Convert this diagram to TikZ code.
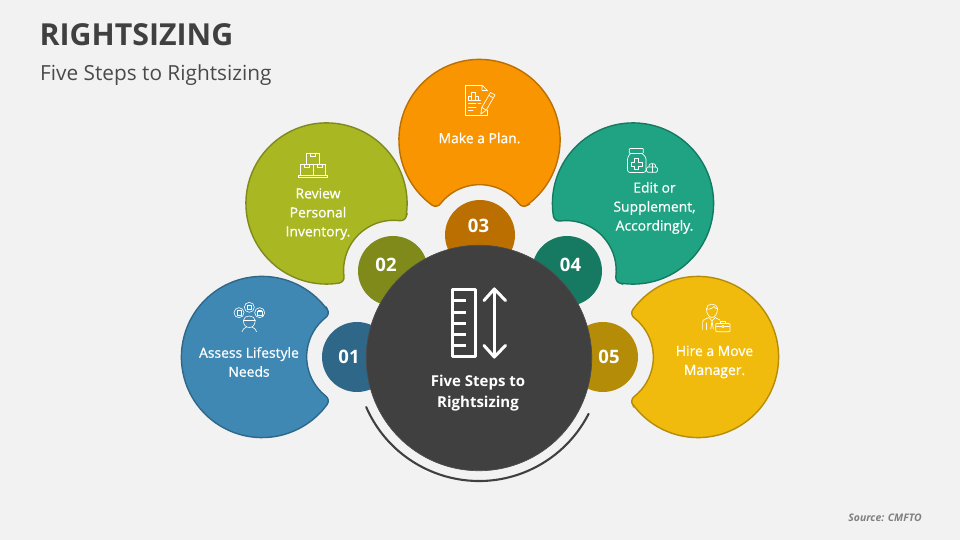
\documentclass[tikz,border=0pt]{standalone}
\usepackage{fontspec}
\setmainfont{Open Sans}
\newfontfamily\labfont[RawFeature={embolden=0.7}]{Open Sans}
\definecolor{bg}{HTML}{F2F2F2}
\definecolor{dark}{HTML}{404040}
\definecolor{sub}{HTML}{4A4A4A}
\definecolor{blueF}{HTML}{3F88B4}\definecolor{blueD}{HTML}{2F6788}
\definecolor{oliveF}{HTML}{A9B723}\definecolor{oliveD}{HTML}{7F8A1A}
\definecolor{orangeF}{HTML}{F89500}\definecolor{orangeD}{HTML}{BB6F00}
\definecolor{tealF}{HTML}{1FA383}\definecolor{tealD}{HTML}{167A62}
\definecolor{yellowF}{HTML}{F0BB0C}\definecolor{yellowD}{HTML}{B48C08}
\tikzset{
  lab/.style={text=white,align=center,font=\labfont\fontsize{13.9}{19}\selectfont,inner sep=0pt},
  num/.style={text=white,font=\bfseries\fontsize{18.5}{20}\selectfont,inner sep=0pt},
  badge/.style={circle,minimum size=70pt,inner sep=0pt},
  ico/.style={draw=white,line width=0.7pt,line join=round,line cap=round},
  px/.style={x=1pt,y=-1pt,yshift=540pt}
}
\newcommand{\crescent}[5]{%
  \begin{scope}[shift={(#1pt,#2pt)},rotate=#3]
    \draw[fill=#4,draw=#5,line width=1.4pt]
      (36.1:80.6pt) arc[start angle=36.1,end angle=323.9,radius=80.6pt]
      arc[start angle=-36.1,end angle=52.1,radius=6pt]
      arc[start angle=232.1,end angle=127.9,radius=50pt]
      arc[start angle=-52.1,end angle=36.1,radius=6pt] -- cycle;
  \end{scope}}
\begin{document}
\begin{tikzpicture}[x=1pt,y=1pt]
\useasboundingbox (0,0) rectangle (960,540);
\fill[bg] (0,0) rectangle (960,540);
\node[anchor=base west,inner sep=0pt,text=dark,font=\bfseries\fontsize{30.3}{34}\selectfont] (title) at (39.5,494) {RIGHTSIZING};
\node[anchor=base west,inner sep=0pt,text=sub,font=\fontsize{20.8}{24}\selectfont] (subtitle) at (40,459) {Five Steps to Rightsizing};
\node[anchor=base east,inner sep=0pt,text=gray,font=\bfseries\itshape\fontsize{10.4}{12}\selectfont] (source) at (922,18) {Source: CMFTO};
\crescent{262}{183}{0}{blueF}{blueD}
\crescent{326.5}{336.5}{-45}{oliveF}{oliveD}
\crescent{479.5}{400}{-90}{orangeF}{orangeD}
\crescent{633}{336.5}{-135}{tealF}{tealD}
\crescent{698}{183}{180}{yellowF}{yellowD}
\node[badge,fill=blueD] (b1) at (357,183) {};
\node[badge,fill=oliveD] (b2) at (393,269) {};
\node[badge,fill=orangeD] (b3) at (480,305) {};
\node[badge,fill=tealD] (b4) at (567,269) {};
\node[badge,fill=yellowD] (b5) at (603,183) {};
\draw[dark,line width=2.1pt,line cap=round] (479,182)++(203.5:123pt) arc[start angle=203.5,end angle=333,radius=123pt];
\node[circle,minimum size=225.5pt,inner sep=0pt,fill=dark,draw=black!70,line width=0.7pt] (hub) at (479,182) {};
\node[num] (n1) at (349,183) {01};
\node[num] (n2) at (386,275.5) {02};
\node[num] (n3) at (478.5,314) {03};
\node[num] (n4) at (570.5,275.5) {04};
\node[num] (n5) at (609,183) {05};
\node[lab] (t1) at (249,178) {Assess Lifestyle\\Needs};
\node[lab] (t2) at (318,326) {Review\\Personal\\Inventory.};
\node[lab] (t3) at (479.5,402) {Make a Plan.};
\node[lab] (t4) at (654.5,332) {Edit or\\Supplement,\\Accordingly.};
\node[lab] (t5) at (714.5,178) {Hire a Move\\Manager.};
\node[lab,font=\bfseries\fontsize{15}{21}\selectfont] (hubt) at (478,146.5) {Five Steps to\\Rightsizing};
\begin{scope}[px]
  % ruler and arrow
  \begin{scope}[draw=white,line width=3pt,line join=round,line cap=round]
    \draw (452,289.5) rectangle (475,356.5);
    \foreach \y in {301,312.3,323.3,334.3,345.7} \draw[line cap=butt] (452,\y) -- (465.7,\y);
    \draw (494.3,289) -- (494.3,357);
    \draw (484,300.5) -- (494.3,289) -- (505.5,300.5);
    \draw (484,345.5) -- (494.3,357) -- (505.5,345.5);
  \end{scope}
  % boxes
  \begin{scope}[ico]
    \draw (306.7,164.3) -- (306.7,153.3) -- (319,153.3) -- (319,164.3);
    \draw (310.5,153.3) -- (310.5,156.5) -- (315.2,156.5) -- (315.2,153.3);
    \draw (300.7,175.5) -- (300.7,164.3) -- (325.7,164.3) -- (325.7,175.5);
    \draw (313.2,164.3) -- (313.2,175.5);
    \draw (304.5,164.3) -- (304.5,167) -- (309.5,167) -- (309.5,164.3);
    \draw (317,164.3) -- (317,167) -- (322,167) -- (322,164.3);
    \draw (298.3,175.3) rectangle (327.7,177.5);
  \end{scope}
  % lifestyle
  \begin{scope}[ico,line width=0.6pt]
    \draw (239,312.7) circle (5pt) (249.3,307.3) circle (5pt) (259.7,312.7) circle (5pt);
    \draw (236.8,310.4) rectangle (241.2,315);
    \draw (247.1,305.3) rectangle (251.5,309.3);
    \draw (257.5,311.2) rectangle (261.9,315) (258.6,311.2) -- (258.6,310.2) -- (260.8,310.2) -- (260.8,311.2);
    \draw (243.4,320.5) .. controls (243.4,314.5) and (255.2,314.5) .. (255.2,320.5) .. controls (255.2,325) and (252.5,327.5) .. (249.3,327.5) .. controls (246,327.5) and (243.4,325) .. (243.4,320.5);
    \draw (243.4,320) -- (255.2,320);
    \draw (242,331.7) .. controls (242,329) and (245,328.3) .. (246.5,327) (256.6,331.7) .. controls (256.6,329) and (253.6,328.3) .. (252,327);
  \end{scope}
  % plan
  \begin{scope}[ico]
    \draw (482,85.3) -- (465.8,85.3) -- (465.8,115) -- (487.5,115) -- (487.5,110);
    \draw (482,85.3) -- (482,90.5) -- (487.5,90.5) -- cycle;
    \draw (468.8,100) -- (468.8,96.5) -- (471.8,96.5) -- (471.8,100) (471.8,100) -- (471.8,92.5) -- (475.2,92.5) -- (475.2,100) (475.2,100) -- (475.2,96) -- (478.5,96) -- (478.5,100);
    \draw (468.5,100) -- (480.5,100);
    \draw (468.5,103.3) -- (476,103.3) (478,103.3) -- (481,103.3);
    \draw (468.5,107) -- (476,107) (468.5,110.3) -- (473,110.3);
    \draw (480.8,114) -- (481.8,107.5) -- (490.5,92.5) -- (495,95) -- (486.2,110.2) -- cycle;
    \draw (481.8,107.5) -- (486.2,110.2);
    \draw (488.8,95.3) -- (493.3,97.9);
  \end{scope}
  % medicine
  \begin{scope}[ico]
    \draw[rounded corners=0.8pt] (629.3,148.5) rectangle (643.3,153.5);
    \draw[rounded corners=2.5pt] (630.5,153.5) -- (627.5,157) -- (627.5,172.5) -- (646,172.5) -- (646,157) -- (642,153.5);
    \draw (634.7,158.5) -- (638.7,158.5) -- (638.7,162) -- (642.2,162) -- (642.2,166) -- (638.7,166) -- (638.7,169.5) -- (634.7,169.5) -- (634.7,166) -- (631.2,166) -- (631.2,162) -- (634.7,162) -- cycle;
    \draw[rounded corners=1.5pt] (646.5,167) rectangle (657.5,172.3);
    \draw (652,167) -- (652,172.3);
    \draw[rounded corners=2pt] (649,167) -- (649,163.8) -- (655.5,163.8) -- (655.5,167);
    \draw (652,163.8) -- (652,167);
  \end{scope}
  % manager
  \begin{scope}[ico]
    \draw (706.5,309) .. controls (706,303) and (717,302) .. (717.5,309) .. controls (717.5,314.5) and (714.5,317.5) .. (712,317.5) .. controls (709.5,317.5) and (706.5,314.5) .. (706.5,309);
    \draw (706.6,309) .. controls (710,310) and (713,307.5) .. (714,306.5) .. controls (715,308) and (716.3,309) .. (717.4,309);
    \draw (702.6,329.5) -- (702.6,322) .. controls (702.6,319.5) and (706,319) .. (709,317.5);
    \draw (706,323) -- (706,329.5);
    \draw (715,317.5) .. controls (717,319) and (719,319.2) .. (720,320);
    \draw (709.5,318) -- (712,321) -- (714.8,318);
    \draw (712,321) -- (710.8,329) (712,321) -- (713.3,329);
    \draw[rounded corners=0.8pt] (715.8,323.5) rectangle (730,331.7);
    \draw (720.5,323.5) -- (720.5,321) -- (725.5,321) -- (725.5,323.5);
    \draw (716.5,326.5) -- (721.5,326.5) (724.5,326.5) -- (729.3,326.5);
    \draw (722.9,326.5) circle (1.2pt);
  \end{scope}
\end{scope}
\end{tikzpicture}
\end{document}
